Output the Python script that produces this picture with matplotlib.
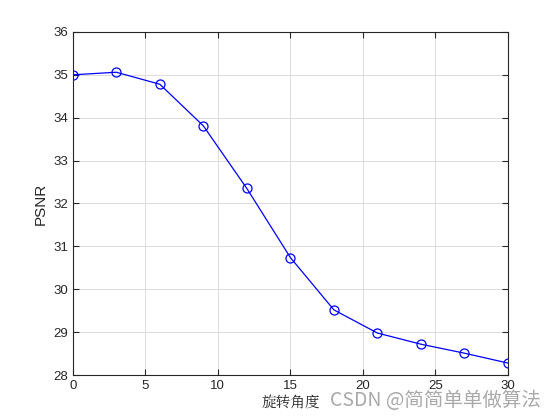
import matplotlib
matplotlib.use("Agg")
import matplotlib.pyplot as plt

angles = [0, 3, 6, 9, 12, 15, 18, 21, 24, 27, 30]
psnr = [35.0, 35.06, 34.78, 33.81, 32.35, 30.74, 29.52, 28.98, 28.72, 28.51, 28.28]

plt.rcParams['font.family'] = ['Liberation Sans', 'Noto Sans CJK SC', 'DejaVu Sans']

fig = plt.figure(figsize=(5.6, 4.2), dpi=100)
ax = fig.add_axes([0.13, 0.107, 0.777, 0.817])

ax.plot(angles, psnr, '-o', color='#0000ff', lw=0.9, markersize=6.5,
        markerfacecolor='none', markeredgewidth=0.9)

ax.set_xlim(0, 30)
ax.set_ylim(28, 36)
ax.set_xticks(range(0, 31, 5))
ax.set_yticks(range(28, 37))
ax.grid(True, color='#dcdcdc', lw=0.7)
ax.set_axisbelow(True)
ax.tick_params(direction='in', labelsize=9.5, colors='#262626', length=4,
               top=True, right=True)
for s in ax.spines.values():
    s.set_color('#262626')
    s.set_linewidth(0.8)

ax.set_ylabel('PSNR', fontsize=11, color='#262626')
ax.set_xlabel('旋转角度', fontsize=10.5, color='#262626',
              family=['Noto Serif CJK SC', 'Noto Sans CJK SC', 'DejaVu Sans'], labelpad=2)

fig.text(0.965, 0.022, 'CSDN @简简单单做算法', ha='right', va='bottom', fontsize=14,
         color='#a0a0a0', alpha=0.9, family=['Noto Sans CJK SC', 'DejaVu Sans'])

fig.savefig('out.png', dpi=100)
